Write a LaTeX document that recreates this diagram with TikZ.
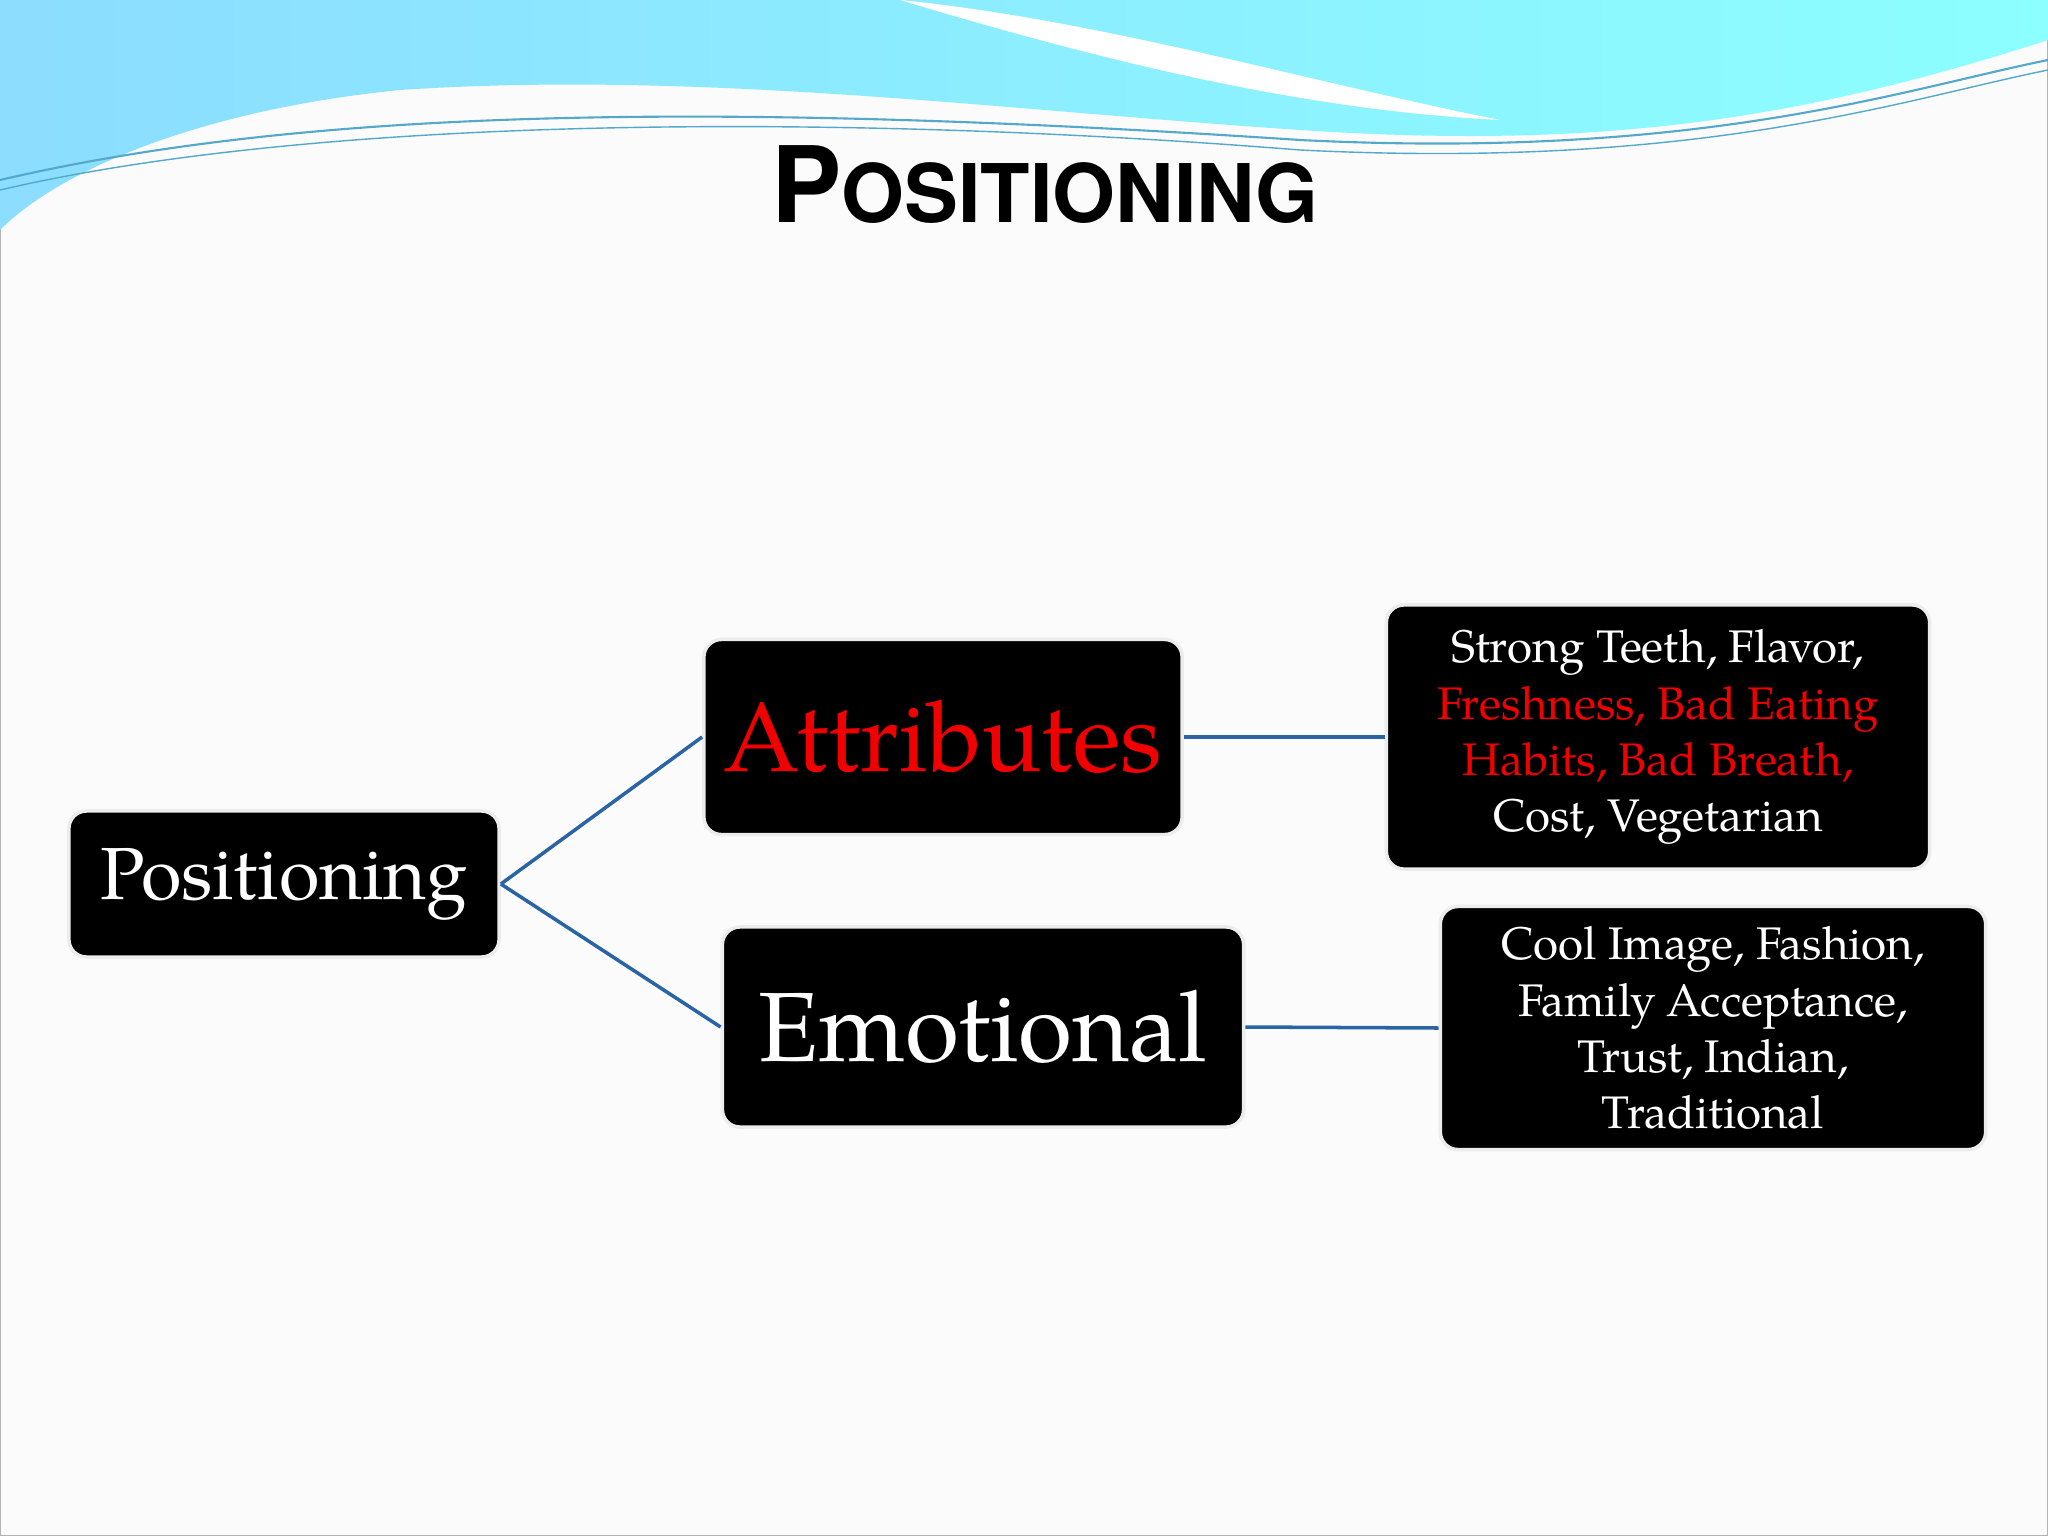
\documentclass[tikz,border=0pt]{standalone}
\usepackage{fontspec}
\setmainfont{TeX Gyre Pagella}
\newfontfamily\ttl{TeX Gyre Heros}
\definecolor{conn}{HTML}{2A64A4}
\definecolor{redt}{HTML}{F00000}
\tikzset{
 box/.style={draw=gray!15,line width=1pt,fill=black,rounded corners=5pt,text=white,align=center,inner sep=0pt},
 conn/.style={draw=conn,line width=1pt}
}
\begin{document}
\begin{tikzpicture}[x=0.01cm,y=-0.01cm]
\useasboundingbox (0,0) rectangle (2048,1536);
\fill[gray!3] (0,0) rectangle (2048,1536);
\draw[gray!60] (0,0) rectangle (2048,1536);
% top wave
\shade[left color=blue!30!cyan!45, right color=cyan!45] (0,0) -- (2048,0) -- (2048,40) .. controls (1800,120) and (1600,150) .. (1300,130) .. controls (1000,110) and (700,70) .. (400,90) .. controls (200,110) and (60,170) .. (0,230) -- cycle;
\fill[white] (900,0) .. controls (1100,20) and (1300,80) .. (1500,120) .. controls (1300,110) and (1100,60) .. (900,0) -- cycle;
\draw[cyan!60!gray,line width=0.6pt] (0,180) .. controls (300,110) and (700,100) .. (1300,140) .. controls (1700,160) and (1900,90) .. (2048,60);
\draw[cyan!60!gray,line width=0.4pt] (0,190) .. controls (300,120) and (800,110) .. (1300,150) .. controls (1700,170) and (1900,100) .. (2048,70);
% title
\node[font=\ttl\bfseries] (title) at (1045,185) {\fontsize{30}{32}\selectfont P\fontsize{23}{25}\selectfont OSITIONING};
% nodes
\node[box,minimum width=4.30cm,minimum height=1.46cm,font=\fontsize{21}{23}\selectfont] (pos) at (284,884) {Positioning};
\node[box,minimum width=4.78cm,minimum height=1.95cm,text=redt,font=\fontsize{28}{30}\selectfont] (att) at (943,737) {Attributes};
\node[box,minimum width=5.21cm,minimum height=2.00cm,font=\fontsize{28}{30}\selectfont] (emo) at (983,1027) {Emotional};
\node[box,minimum width=5.43cm,minimum height=2.64cm,font=\fontsize{13}{16}\selectfont] (a2) at (1658,737) {Strong Teeth, Flavor,\\\textcolor{redt}{Freshness, Bad Eating}\\\textcolor{redt}{Habits, Bad Breath,}\\Cost, Vegetarian};
\node[box,minimum width=5.45cm,minimum height=2.43cm,font=\fontsize{13}{16}\selectfont] (e2) at (1713,1028) {Cool Image, Fashion,\\Family Acceptance,\\Trust, Indian,\\Traditional};
% connectors
\draw[conn] (pos.east) -- (att.west);
\draw[conn] (pos.east) -- (emo.west);
\draw[conn] (att.east) -- (a2.west);
\draw[conn] (emo.east) -- (e2.west);
\end{tikzpicture}
\end{document}
